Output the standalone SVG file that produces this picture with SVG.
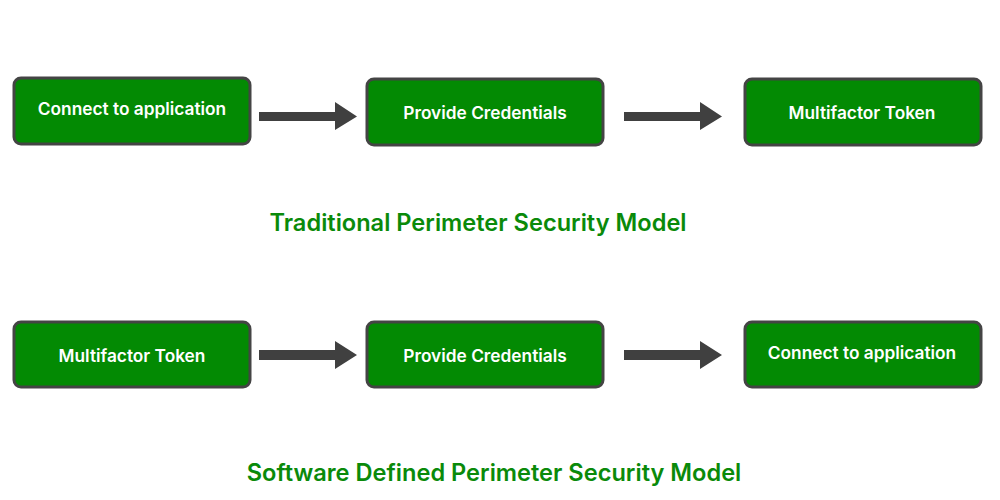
<svg xmlns="http://www.w3.org/2000/svg" width="1000" height="500" viewBox="0 0 1000 500">
<style>
.box{fill:#038a03;stroke:#444444;stroke-width:3}
.lbl{font-family:Inter,"Noto Sans",sans-serif;font-weight:600;font-size:17.3px;fill:#ffffff;text-anchor:middle}
.ttl{font-family:Inter,"Noto Sans",sans-serif;font-weight:600;font-size:23.6px;fill:#0a8a0a;text-anchor:middle}
.arr{fill:#404040}
</style>
<rect width="1000" height="500" fill="#ffffff"/>
<g id="t1"><rect class="box" x="14" y="78" width="236" height="66" rx="7"/><text class="lbl" x="132" y="115">Connect to application</text></g>
<g id="t2"><rect class="box" x="367" y="79" width="236" height="66" rx="7"/><text class="lbl" x="485" y="119">Provide Credentials</text></g>
<g id="t3"><rect class="box" x="745" y="79" width="236" height="66" rx="7"/><text class="lbl" x="862" y="119">Multifactor Token</text></g>
<g id="s1"><rect class="box" x="14" y="322" width="236" height="65" rx="7"/><text class="lbl" x="132" y="362">Multifactor Token</text></g>
<g id="s2"><rect class="box" x="367" y="322" width="236" height="65" rx="7"/><text class="lbl" x="485" y="362">Provide Credentials</text></g>
<g id="s3"><rect class="box" x="745" y="322" width="236" height="65" rx="7"/><text class="lbl" x="862" y="359">Connect to application</text></g>
<g id="connectors">
<path class="arr" d="M259 112 H335 V102 L357 116.5 L335 130 V121 H259 Z"/>
<path class="arr" d="M624 112 H700 V102 L722 116.5 L700 130 V121 H624 Z"/>
<path class="arr" d="M259 350 H335 V341 L357 355 L335 369 V360 H259 Z"/>
<path class="arr" d="M624 350 H700 V341 L722 355 L700 369 V360 H624 Z"/>
</g>
<text class="ttl" x="478" y="231">Traditional Perimeter Security Model</text>
<text class="ttl" x="494" y="481">Software Defined Perimeter Security Model</text>
</svg>
